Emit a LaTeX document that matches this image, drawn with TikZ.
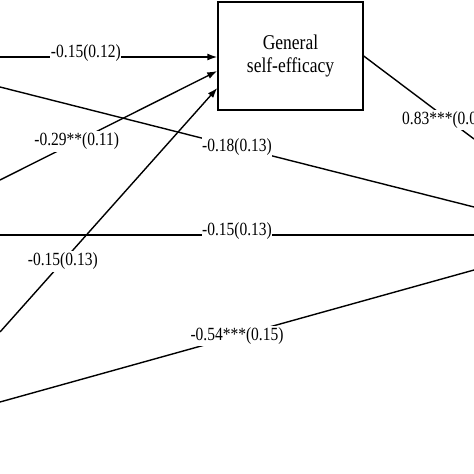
\documentclass[tikz,border=0pt]{standalone}
\usepackage{fontspec}
\setmainfont{Liberation Serif}
\usepackage{graphicx}
\usetikzlibrary{arrows.meta, positioning}
\newcommand{\tallt}[1]{\scalebox{1}[1.2]{#1}}

\begin{document}
\begin{tikzpicture}[>={Latex[length=10pt,width=7pt]}, x=1pt, y=-1pt, line width=1.4pt,
    box/.style={draw, minimum width=145pt, minimum height=108pt, align=center,
        font=\fontsize{17.5}{23}\selectfont},
    coef/.style={fill=white, inner xsep=0.5pt, inner ysep=2pt,
        font=\fontsize{15.5}{18}\selectfont}]
    % 1. Frame
    \path[use as bounding box, fill=white] (0,0) rectangle (474,474);
    \clip (0,0) rectangle (474,474);

    % 2. Mediator
    \node[box] (gse) at (290.5,56) {\tallt{General}\\\tallt{self-efficacy}};

    % 3. Ends of the paths outside the frame
    \coordinate (x1) at (0,57);
    \coordinate (x2) at (0,87);
    \coordinate (x3) at (0,180);
    \coordinate (x4) at (0,332);
    \coordinate (x5) at (0,235);
    \coordinate (x6) at (0,402);
    \coordinate (y2) at (474,207);
    \coordinate (y5) at (474,235);
    \coordinate (y6) at (474,270);
    \coordinate (y7) at (474,139);

    % 4. Paths with coefficients
    \draw[->] (x1) -- (gse.west |- x1) node[coef, anchor=base, pos=0.395] {\tallt{-0.15(0.12)}};
    \draw (x2) -- (y2) node[coef, pos=0.5] {\tallt{-0.18(0.13)}};
    \draw[->] (x3) -- ([yshift=-15pt]gse.west) node[coef, pos=0.353] {\tallt{-0.29**(0.11)}};
    \draw[->] (x4) -- ([yshift=-32pt]gse.west) node[coef, pos=0.289] {\tallt{-0.15(0.13)}};
    \draw (x5) -- (y5) node[coef, anchor=base, pos=0.5] {\tallt{-0.15(0.13)}};
    \draw (x6) -- (y6) node[coef, pos=0.5] {\tallt{-0.54***(0.15)}};
    \draw (gse.east) -- (y7);
    \node[coef, anchor=west] (b7) at (401,120) {\tallt{0.83***(0.0}};
\end{tikzpicture}
\end{document}
